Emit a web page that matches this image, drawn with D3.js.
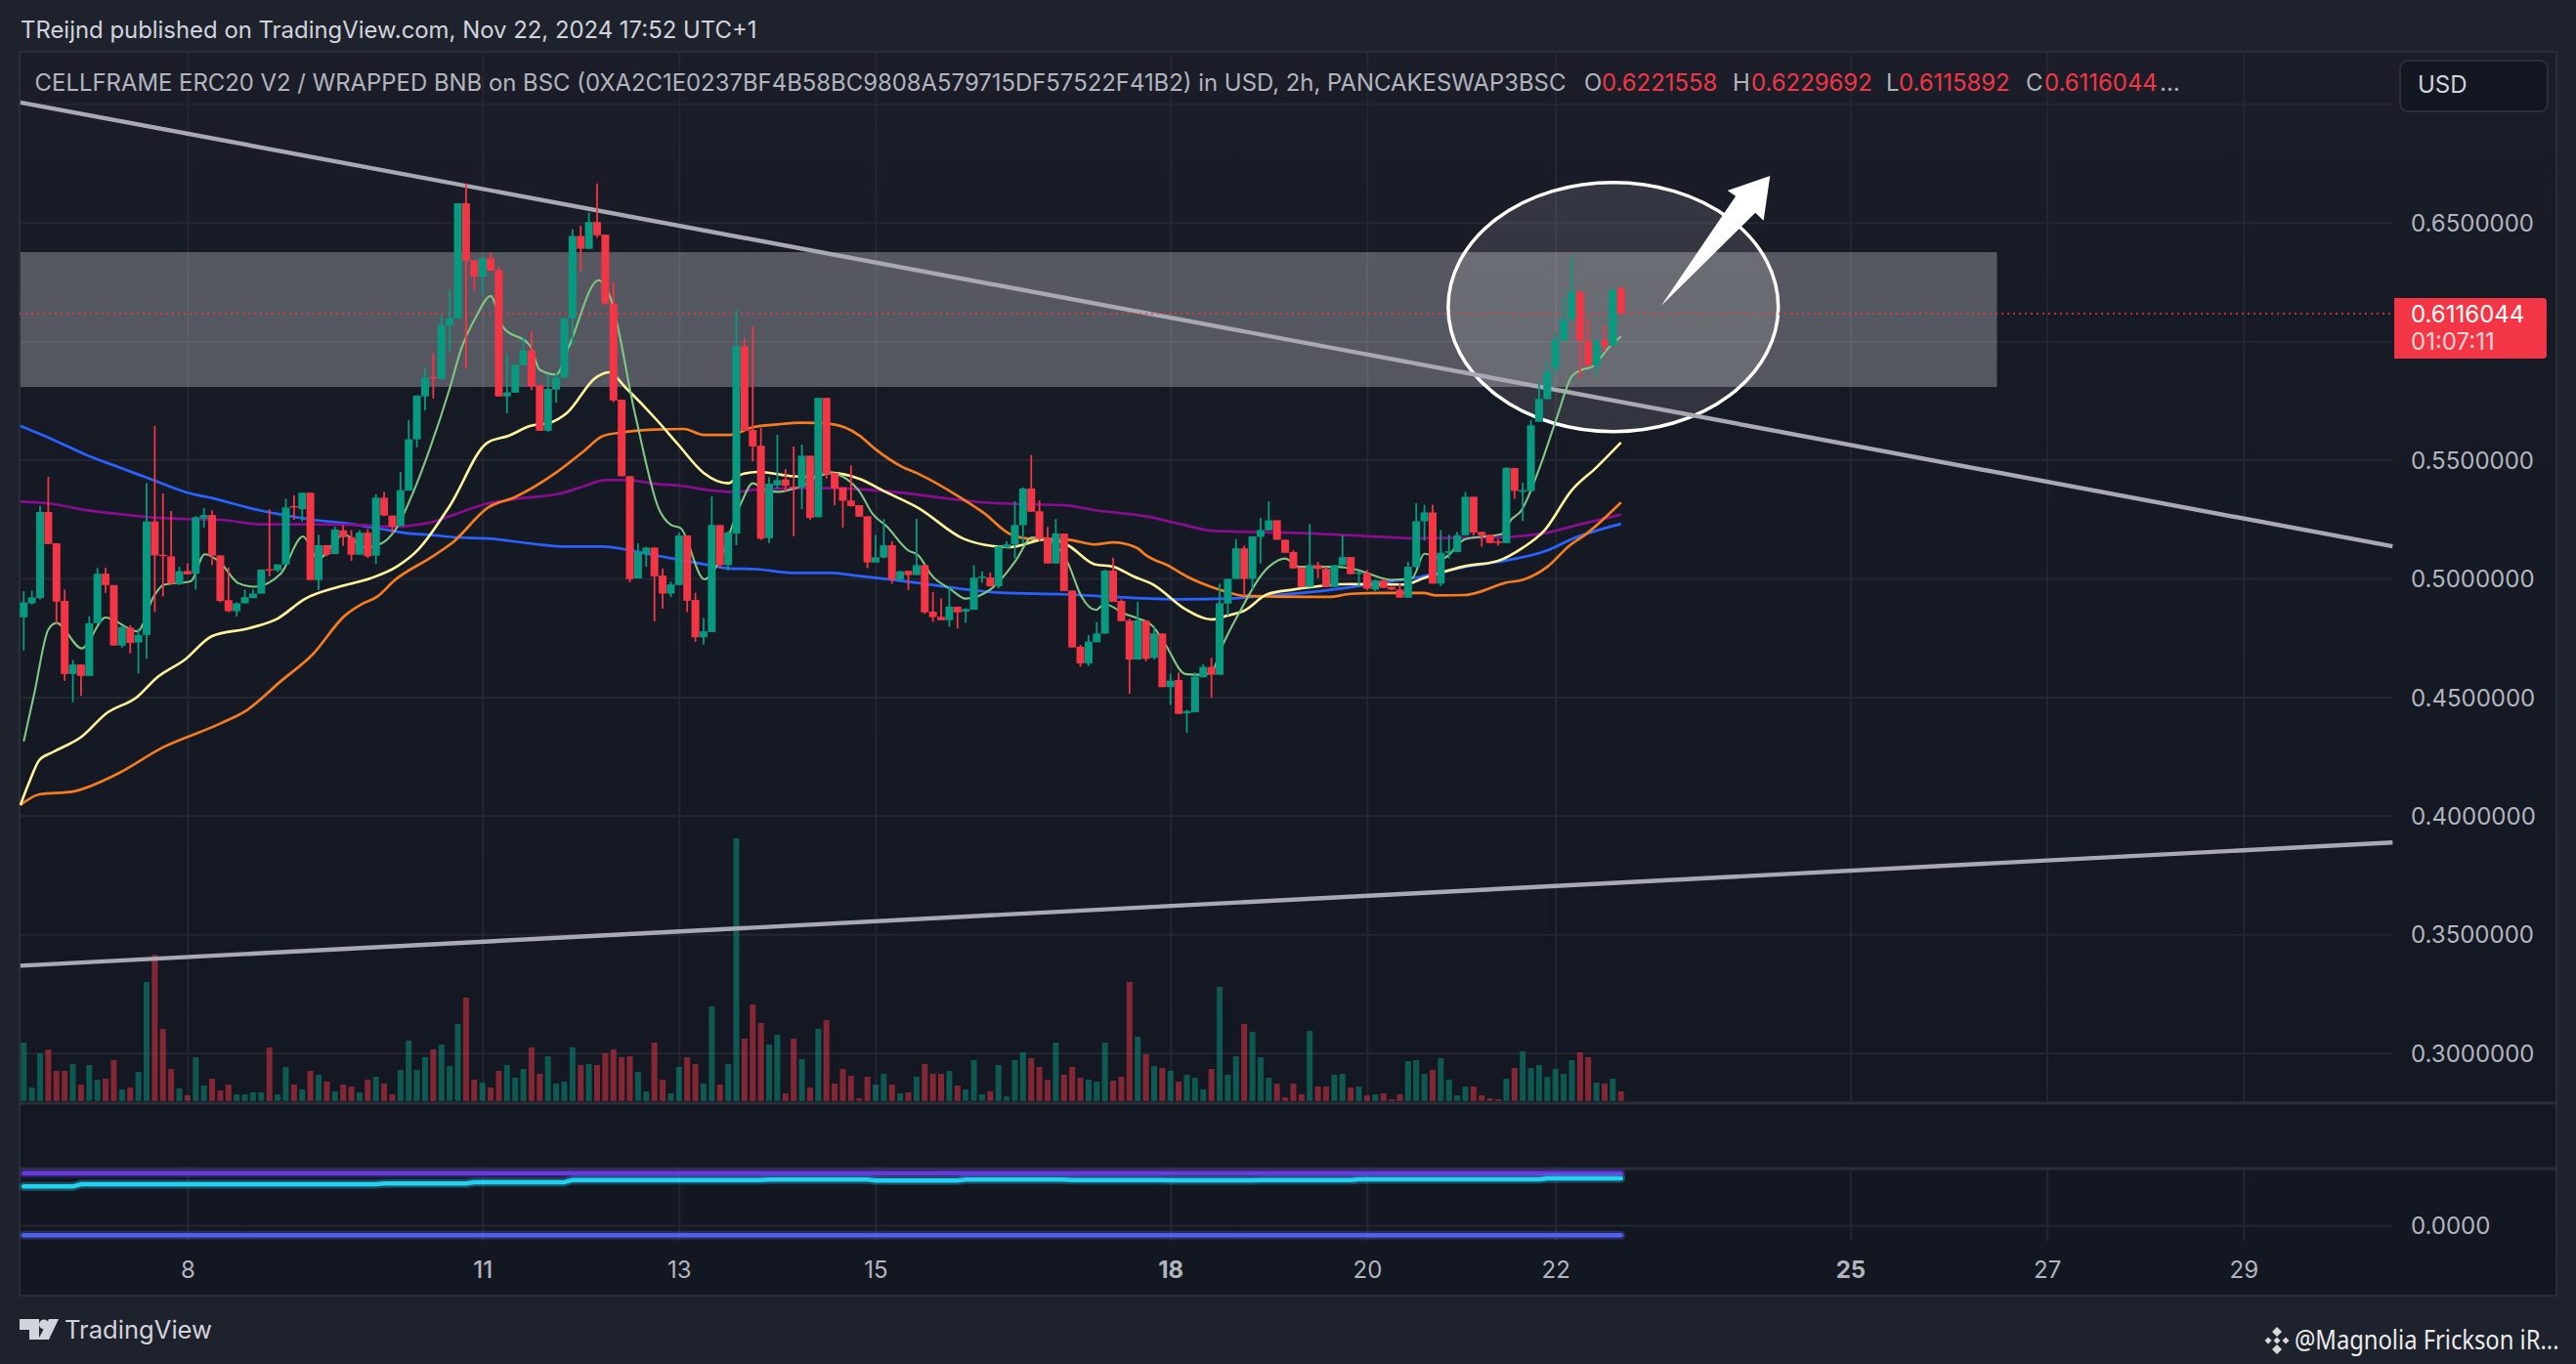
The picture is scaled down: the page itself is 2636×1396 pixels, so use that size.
<!DOCTYPE html>
<html>
<head>
<meta charset="utf-8">
<script src="https://cdn.jsdelivr.net/npm/d3@7"></script>
<style>
  html, body { margin: 0; padding: 0; background: #1e222d; }
  svg { display: block; }
  text { font-family: Inter, "Noto Sans", sans-serif; }
</style>
</head>
<body>
<script>
var w = 2636;
var h = 1396;

// one candle every 2h
var opens = [
  .4836,.4895,.4917,.5280,.5148,.4905,.4597,.4637,.4589,.4811,
  .5020,.4972,.4717,.4792,.4730,.4762,.5240,.5100,.5093,.4976,
  .5031,.5020,.5252,.5267,.5097,.4908,.4862,.4895,.4917,.4936,
  .5039,.5034,.5059,.5305,.5292,.5361,.4993,.5140,.5103,.5203,
  .5174,.5100,.5193,.5096,.5340,.5265,.5221,.5370,.5586,.5767,
  .5849,.5840,.6067,.6096,.6581,.6340,.6272,.6349,.6299,.5767,
  .5783,.5899,.5961,.5814,.5622,.5796,.5846,.6096,.6443,.6389,
  .6502,.6449,.6158,.5753,.5431,.5000,.5103,.5130,.5012,.4936,
  .4972,.5181,.4909,.4752,.4774,.5225,.5056,.5189,.5978,.5625,
  .5559,.5170,.5392,.5417,.5387,.5383,.5517,.5258,.5761,.5445,
  .5384,.5328,.5309,.5262,.5067,.5088,.5140,.4995,.5032,.5014,
  .5056,.4860,.4838,.4824,.4881,.4860,.4868,.5002,.5004,.4967,
  .5129,.5143,.5224,.5379,.5283,.5173,.5063,.5189,.4949,.4712,
  .4642,.4731,.4767,.5033,.4905,.4822,.4658,.4822,.4665,.4768,
  .4542,.4572,.4432,.4436,.4583,.4627,.4594,.4894,.4998,.5127,
  .4998,.5175,.5203,.5245,.5163,.5111,.5046,.4964,.5056,.5040,
  .4964,.5056,.5090,.5019,.5022,.4953,.4992,.4964,.4953,.4919,
  .5049,.5241,.5278,.4978,.5108,.5111,.5182,.5344,.5196,.5184,
  .5156,.5149,.5465,.5365,.5368,.5660,.5756,.5886,.6003,.6090,
  .6209,.6000,.5897,.6003,.5980,.6222];
var highs = [
  .4946,.4949,.5306,.5428,.5148,.4953,.4656,.4637,.4840,.5045,
  .5045,.4972,.4802,.4803,.4789,.5402,.5642,.5358,.5284,.5049,
  .5064,.5262,.5296,.5287,.5097,.5046,.4899,.4953,.4953,.5037,
  .5292,.5059,.5336,.5350,.5361,.5361,.5184,.5140,.5218,.5225,
  .5203,.5203,.5208,.5355,.5365,.5265,.5449,.5667,.5772,.5887,
  .5950,.6111,.6218,.6581,.6664,.6340,.6349,.6375,.6311,.5946,
  .5900,.6015,.6042,.5814,.5858,.5865,.6096,.6472,.6486,.6542,
  .6664,.6449,.6250,.5753,.5431,.5147,.5133,.5130,.5042,.4986,
  .5193,.5181,.4939,.4833,.5346,.5225,.5199,.6130,.6012,.6061,
  .5634,.5427,.5605,.5461,.5556,.5564,.5517,.5761,.5761,.5445,
  .5384,.5476,.5309,.5262,.5183,.5250,.5157,.5033,.5032,.5251,
  .5056,.4942,.4916,.4967,.4881,.4875,.5056,.5029,.5025,.5139,
  .5157,.5324,.5383,.5520,.5329,.5217,.5251,.5189,.4949,.4720,
  .4761,.4816,.5036,.5087,.4912,.4830,.4901,.4822,.4796,.4768,
  .4599,.4603,.4446,.4603,.4638,.4665,.4978,.4998,.5166,.5138,
  .5177,.5255,.5324,.5245,.5163,.5118,.5046,.5230,.5070,.5049,
  .5056,.5182,.5090,.5029,.5036,.4994,.4994,.4964,.4981,.5070,
  .5317,.5310,.5310,.5204,.5184,.5197,.5365,.5344,.5196,.5184,
  .5166,.5468,.5465,.5403,.5667,.5825,.5914,.6031,.6182,.6356,
  .6209,.6099,.6003,.6065,.6218,.6230];
var lows = [
  .4696,.4890,.4911,.5145,.4806,.4568,.4478,.4505,.4589,.4811,
  .4939,.4717,.4708,.4684,.4600,.4662,.4858,.4924,.4975,.4972,
  .5017,.4953,.5214,.5056,.4899,.4858,.4840,.4895,.4917,.4936,
  .5008,.5027,.5056,.5247,.5240,.4993,.4950,.5093,.5103,.5137,
  .5074,.5100,.5086,.5061,.5262,.5189,.5221,.5370,.5552,.5708,
  .5758,.5836,.5956,.6093,.5884,.6211,.6196,.6297,.5767,.5696,
  .5783,.5899,.5793,.5622,.5618,.5740,.5846,.5983,.6295,.6389,
  .6436,.6152,.5743,.5431,.4983,.5000,.5049,.4818,.4872,.4921,
  .4972,.4858,.4733,.4721,.4774,.5042,.5034,.5140,.5622,.5493,
  .5162,.5149,.5380,.5365,.5178,.5292,.5247,.5258,.5420,.5308,
  .5214,.5302,.5260,.5043,.5067,.5084,.4977,.4988,.4951,.5014,
  .4850,.4816,.4824,.4796,.4789,.4812,.4868,.4981,.4964,.4958,
  .5129,.5084,.5146,.5281,.5157,.5063,.5063,.4947,.4709,.4628,
  .4631,.4731,.4767,.4901,.4820,.4514,.4658,.4651,.4658,.4542,
  .4466,.4429,.4350,.4436,.4583,.4498,.4594,.4843,.4998,.4926,
  .4953,.5063,.5203,.5163,.5108,.5042,.4964,.4964,.5001,.4964,
  .4964,.5056,.5018,.4964,.4950,.4946,.4960,.4950,.4919,.4919,
  .5046,.5159,.4978,.4967,.5084,.5111,.5180,.5180,.5134,.5149,
  .5138,.5148,.5335,.5241,.5368,.5660,.5756,.5856,.6003,.6090,
  .5845,.5897,.5852,.5955,.5980,.6116];
var closes = [
  .4899,.4920,.5280,.5145,.4902,.4597,.4637,.4589,.4811,.5020,
  .4972,.4717,.4795,.4728,.4762,.5240,.5097,.5096,.4978,.5030,
  .5017,.5258,.5267,.5096,.4905,.4862,.4895,.4921,.4936,.5037,
  .5034,.5059,.5299,.5299,.5361,.4993,.5140,.5100,.5206,.5174,
  .5100,.5193,.5093,.5340,.5265,.5218,.5372,.5586,.5770,.5846,
  .5846,.6068,.6097,.6581,.6339,.6272,.6349,.6297,.5767,.5784,
  .5900,.5961,.5809,.5622,.5799,.5846,.6096,.6443,.6389,.6502,
  .6446,.6158,.5750,.5431,.4997,.5111,.5130,.5009,.4936,.4975,
  .5181,.4906,.4752,.4777,.5225,.5056,.5193,.5978,.5622,.5556,
  .5167,.5399,.5414,.5390,.5383,.5517,.5255,.5761,.5439,.5379,
  .5327,.5305,.5260,.5067,.5089,.5140,.4995,.5030,.5014,.5056,
  .4857,.4837,.4824,.4881,.4857,.4871,.5003,.5008,.4967,.5135,
  .5143,.5225,.5379,.5281,.5166,.5063,.5189,.4947,.4709,.4642,
  .4734,.4768,.5033,.4901,.4820,.4658,.4823,.4661,.4768,.4542,
  .4569,.4429,.4441,.4586,.4627,.4594,.4896,.4998,.5127,.4998,
  .5177,.5204,.5245,.5163,.5108,.5042,.4964,.5056,.5040,.4964,
  .5056,.5090,.5018,.5026,.4957,.4992,.4960,.4953,.4919,.5049,
  .5241,.5278,.4978,.5108,.5115,.5182,.5344,.5193,.5182,.5149,
  .5149,.5466,.5369,.5372,.5645,.5756,.5873,.6003,.6090,.6209,
  .6003,.5897,.6003,.5980,.6216,.6116];
// volume has no scale in the picture, so these are relative units
var volumes = [
  179,41,146,158,92,92,113,50,110,65,68,125,35,41,89,365,449,221,98,38,
  17,134,47,68,32,50,20,20,26,26,164,20,104,50,35,92,80,59,29,50,
  44,26,65,74,53,20,95,185,95,134,158,173,107,236,317,65,56,41,92,110,
  71,98,164,83,137,53,59,164,110,113,110,146,158,134,137,89,29,179,65,23,
  104,134,113,53,290,50,113,806,191,296,239,173,203,23,191,128,41,221,248,53,
  98,77,8,74,50,83,50,23,26,74,113,83,83,92,47,35,125,20,29,110,
  14,125,149,131,104,65,179,80,104,71,65,59,179,62,74,365,197,143,107,101,
  92,59,80,71,35,98,350,80,137,236,212,134,71,53,11,53,20,215,44,44,
  80,83,41,44,17,20,23,5,20,122,125,83,95,131,65,17,44,44,17,8,
  5,68,101,152,101,110,74,98,83,125,149,134,56,53,68,29];

// moving averages as [bar, price]
var maFast = [[0,.4313],[1.3,.4516],[3,.4784],[4,.4812],[7.1,.4705],[10,.4835],[13.9,.4777],[15.9,.4926],[17.1,.4973],
  [20.4,.4988],[22.1,.5102],[24,.5067],[26.2,.4980],[28.1,.4965],[31.4,.5021],[34.1,.5177],[35.9,.5082],[39.1,.5185],
  [41.7,.5131],[43.6,.5146],[45.3,.5201],[47.6,.5367],[49.5,.5539],[52,.5800],[53.4,.5966],[55.3,.6108],[57,.6190],
  [58.5,.6060],[61.8,.5981],[63,.5879],[65,.5859],[66.6,.5981],[70.2,.6257],[71.5,.6194],[74.7,.5682],[77.6,.5288],
  [79,.5226],[80.2,.5212],[83.1,.4996],[84.7,.5059],[87.6,.5319],[89,.5401],[90.9,.5367],[92.1,.5365],[95,.5390],
  [98.3,.5445],[101.9,.5372],[103.7,.5269],[105.3,.5221],[108,.5118],[109.2,.5098],[110.8,.5015],[113.2,.4953],[115,.4915],
  [118,.4953],[119.6,.5008],[121.2,.5080],[123.1,.5173],[124.7,.5166],[127.5,.5063],[129.1,.4926],[130.9,.4867],[131.9,.4892],
  [134.5,.4850],[135.9,.4833],[137.9,.4796],[139.4,.4720],[141.8,.4597],[143.4,.4594],[145,.4603],[146.2,.4706],[148.2,.4843],
  [152,.5049],[154,.5084],[155.7,.5049],[160.5,.5049],[162.9,.5035],[166.9,.4994],[169.5,.5001],[171,.5104],[173.2,.5084],
  [176,.5166],[180.4,.5186],[181.6,.5248],[182.8,.5285],[185,.5461],[187.2,.5681],[189,.5852],[190.3,.5880],[191.5,.5893],
  [193.5,.5972],[195,.6020]];
var maMid = [[-.4,.4045],[.7,.4143],[1.9,.4234],[3.5,.4267],[7.1,.4334],[10,.4429],[13.9,.4502],[16.2,.4580],[19.7,.4658],
  [23,.4757],[27.5,.4790],[31,.4831],[34.3,.4913],[38.5,.4965],[42.3,.5000],[45.6,.5051],[48.2,.5123],[52,.5305],[56.6,.5572],
  [59.2,.5601],[61.8,.5642],[64.4,.5658],[66.3,.5697],[69.9,.5848],[71.5,.5869],[73.4,.5807],[77.3,.5667],[79.9,.5564],
  [83,.5445],[86,.5401],[87.6,.5438],[89.6,.5449],[94,.5430],[96.1,.5428],[98.5,.5445],[102,.5420],[105.2,.5365],[109.2,.5297],
  [114.8,.5166],[118.4,.5136],[120.4,.5132],[125,.5166],[127.5,.5139],[130.7,.5060],[133,.5049],[135.5,.5008],[137.9,.4974],
  [141.8,.4871],[145,.4827],[147,.4844],[149,.4864],[151.8,.4933],[155,.4953],[162,.4976],[168.5,.4974],[170.9,.5001],
  [176,.5052],[180,.5074],[183,.5129],[185.6,.5200],[189,.5372],[192,.5468],[195,.5573]];
var maSlow = [[-.4,.4045],[1.9,.4090],[6,.4102],[11.2,.4172],[17,.4288],[24.1,.4390],[27.3,.4446],[31.3,.4564],[35.3,.4681],
  [39.2,.4843],[41.2,.4890],[43.2,.4924],[45.2,.4990],[49.6,.5086],[52.4,.5152],[56.7,.5299],[60,.5343],[65,.5446],[68.3,.5534],
  [70.7,.5600],[73,.5615],[77,.5627],[80.6,.5630],[83,.5605],[86.2,.5605],[89,.5637],[92,.5649],[95,.5656],[98.5,.5651],
  [102,.5603],[104,.5544],[107.2,.5471],[109.2,.5441],[114.8,.5331],[117.2,.5276],[120.4,.5187],[123.1,.5166],[127.5,.5163],
  [130.7,.5143],[133,.5152],[135.9,.5129],[137,.5098],[140,.5049],[142,.5008],[145,.4964],[146.6,.4946],[149,.4926],[157,.4922],
  [159.3,.4922],[162,.4935],[166,.4939],[170.9,.4939],[172.4,.4928],[176,.4930],[178,.4946],[180.8,.4981],[183,.4994],[186,.5049],
  [188.7,.5138],[190.7,.5186],[195,.5320]];
var maPurple = [[-.4,.5324],[3.5,.5314],[7.4,.5289],[11.4,.5272],[15.4,.5258],[20,.5250],[24,.5247],[29,.5228],[35.3,.5228],
  [41.2,.5225],[45,.5218],[49.6,.5235],[52.4,.5267],[56.4,.5314],[60.3,.5336],[65.5,.5358],[68.3,.5387],[71,.5414],[73.8,.5414],
  [77,.5399],[80.2,.5390],[84.2,.5370],[86.6,.5365],[90.5,.5377],[98.5,.5380],[105.3,.5368],[113.2,.5335],[117.2,.5320],
  [121.2,.5314],[127.1,.5308],[131.1,.5286],[137,.5262],[141,.5231],[145,.5201],[147.4,.5198],[154.2,.5193],[162.1,.5182],
  [170.1,.5169],[180,.5173],[186,.5193],[190,.5228],[195,.5269]];
var maBlue = [[-.4,.5642],[3.5,.5586],[7.4,.5524],[11.4,.5471],[15.4,.5420],[20,.5361],[23.3,.5336],[27.3,.5299],[31.3,.5270],
  [35.3,.5247],[39.2,.5233],[43.2,.5211],[47.2,.5189],[49.6,.5184],[52.4,.5174],[57.1,.5167],[62.3,.5145],[66.3,.5134],
  [70.7,.5134],[73.8,.5120],[76.2,.5103],[80.2,.5078],[84.2,.5053],[86.2,.5042],[89.4,.5039],[94.1,.5023],[98.5,.5023],
  [101.3,.5013],[105.3,.4997],[109.2,.4981],[115.2,.4953],[119.2,.4940],[127.1,.4933],[133.1,.4922],[141,.4912],[147,.4915],
  [152.2,.4928],[158.1,.4946],[164.1,.4974],[170.1,.5004],[176,.5049],[180,.5070],[186,.5118],[189,.5166],[195,.5230]];

// lower indicator pane
var indTop = [[0,.0533],[195,.0533]];
var indMid = [[0,.0397],[6,.0397],[7,.042],[43,.042],[44,.0427],[54,.0427],[55,.044],[66,.044],[67,.0463],[90,.0463],[91,.0467],
  [103,.0467],[104,.0457],[114,.0457],[115,.0467],[127,.0467],[128,.0463],[139,.0463],[140,.046],[150,.046],[151,.0463],
  [162,.0463],[163,.047],[185,.047],[186,.048],[195,.048]];
var indBottom = [[0,-.0103],[195,-.0103]];

// drawings, anchored on [bar, price]
var trendDown = [[-.4,.7006],[289.2,.5135]];
var trendUp = [[-.4,.3368],[289.2,.3887]];
var zoneBars = [-.4, 240.9];
var zonePrices = [.6375, .5807];
var ellipseBars = [173.9, 214.2];
var ellipsePrices = [.6669, .5619];
var arrowPoints = [[199.9,.6149],[209,.6611],[208,.6635],[213.2,.6696],[212.4,.6508],[211.4,.6541]];

var lastPrice = 0.6116044;
var priceGrid = [.7,.65,.6,.55,.5,.45,.4,.35,.3];
var priceLabels = [.65,.55,.5,.45,.4,.35,.3];
var timeTicks = [20,56,80,104,140,164,187,223,247,271];
var timeLabels = ["8","11","13","15","18","20","22","25","27","29"];
var boldLabels = {"11":500, "18":700, "25":700};

var chartL = 20, chartR = 2448, frameR = 2616;
var chartT = 53, paneB = 1129, indT = 1196, indB = 1270, frameB = 1326;

var x = d3.scaleLinear().domain([20, 271]).range([191.9, 2295.8]);
var y = d3.scaleLinear().domain([.65, .3]).range([227.7, 1077.7]);
var yVol = d3.scaleLinear().domain([0, 806]).range([1126.7, 858]);
var yInd = d3.scaleLinear().domain([0, .05]).range([1254, 1204]);

var green = "#089981", red = "#f23645";
var textCol = "#b2b5be";
var legendSize = "23.9px";

var candles = opens.map(function(o, i) {
  return {i: i, o: o, h: highs[i], l: lows[i], c: closes[i], v: volumes[i]};
});

var svg = d3.select("body").append("svg").attr("width", w).attr("height", h);

var grad = svg.append("defs").append("linearGradient")
  .attr("id", "bg").attr("x1", 0).attr("y1", 0).attr("x2", 0).attr("y2", 1);
grad.append("stop").attr("offset", "0%").attr("stop-color", "#1b1e29");
grad.append("stop").attr("offset", "25%").attr("stop-color", "#161a25");
grad.append("stop").attr("offset", "100%").attr("stop-color", "#131722");

svg.append("text").attr("x", 21).attr("y", 39).attr("fill", "#d1d4dc")
  .style("font-size", "23.9px").text("TReijnd published on TradingView.com, Nov 22, 2024 17:52 UTC+1");

svg.append("rect").attr("x", chartL).attr("y", chartT)
  .attr("width", frameR - chartL).attr("height", frameB - chartT)
  .attr("fill", "url(#bg)").attr("stroke", "#2a2e39").attr("stroke-width", 2);

// grid, through the axes
var gridCol = "#242732";
var gridY = svg.append("g").attr("transform", "translate(" + chartR + ",0)")
  .call(d3.axisRight(y).tickValues(priceGrid).tickSize(-(chartR - chartL)).tickFormat(""));
var gridX1 = svg.append("g").attr("transform", "translate(0," + paneB + ")")
  .call(d3.axisBottom(x).tickValues(timeTicks).tickSize(-(paneB - chartT)).tickFormat(""));
var gridX2 = svg.append("g").attr("transform", "translate(0," + indB + ")")
  .call(d3.axisBottom(x).tickValues(timeTicks).tickSize(-(indB - indT)).tickFormat(""));
var gridInd = svg.append("g").attr("transform", "translate(" + chartR + ",0)")
  .call(d3.axisRight(yInd).tickValues([0]).tickSize(-(chartR - chartL)).tickFormat(""));
[gridY, gridX1, gridX2, gridInd].forEach(function(g) {
  g.select(".domain").remove();
  g.selectAll("line").attr("stroke", gridCol).attr("stroke-width", 2);
});

// pane separators
[paneB, indT].forEach(function(py) {
  svg.append("line").attr("x1", chartL).attr("x2", frameR).attr("y1", py).attr("y2", py)
    .attr("stroke", "#2a2e39").attr("stroke-width", 3);
});

// volume
svg.append("g").selectAll("rect").data(candles).enter().append("rect")
  .attr("x", function(d) { return x(d.i) - 3; })
  .attr("width", 6)
  .attr("y", function(d) { return yVol(d.v); })
  .attr("height", function(d) { return yVol(0) - yVol(d.v); })
  .attr("fill", function(d) { return d.c >= d.o ? green : red; })
  .attr("fill-opacity", .5);

// zone
svg.append("rect")
  .attr("x", x(zoneBars[0])).attr("width", x(zoneBars[1]) - x(zoneBars[0]))
  .attr("y", y(zonePrices[0])).attr("height", y(zonePrices[1]) - y(zonePrices[0]))
  .attr("fill", "#fff").attr("fill-opacity", .27);

var line = d3.line()
  .x(function(d) { return x(d[0]); })
  .y(function(d) { return y(d[1]); });
var lineInd = d3.line()
  .x(function(d) { return x(d[0]); })
  .y(function(d) { return yInd(d[1]); });

// ellipse under the candles
svg.append("ellipse")
  .attr("cx", (x(ellipseBars[0]) + x(ellipseBars[1])) / 2)
  .attr("cy", (y(ellipsePrices[0]) + y(ellipsePrices[1])) / 2)
  .attr("rx", (x(ellipseBars[1]) - x(ellipseBars[0])) / 2)
  .attr("ry", (y(ellipsePrices[1]) - y(ellipsePrices[0])) / 2)
  .attr("fill", "#fff").attr("fill-opacity", .12)
  .attr("stroke", "#fff").attr("stroke-width", 3.5);

// trend lines
[trendDown, trendUp].forEach(function(t) {
  svg.append("path").attr("d", line(t)).attr("fill", "none")
    .attr("stroke", "#a9a9b4").attr("stroke-width", 4.4);
});

// last price
svg.append("line").attr("x1", chartL).attr("x2", chartR)
  .attr("y1", y(lastPrice)).attr("y2", y(lastPrice))
  .attr("stroke", red).attr("stroke-opacity", .75).attr("stroke-width", 2).attr("stroke-dasharray", "2 4");

// moving averages
var maLines = [
  {d: maBlue, c: "#2962ff", w: 2.7},
  {d: maPurple, c: "#880e8f", w: 2.7},
  {d: maSlow, c: "#f57c1f", w: 2.7},
  {d: maMid, c: "#fff59d", w: 2.6},
  {d: maFast, c: "#81c784", w: 2.1}
];
maLines.forEach(function(m) {
  svg.append("path").attr("d", line.curve(d3.curveMonotoneX)(m.d)).attr("fill", "none")
    .attr("stroke", m.c).attr("stroke-width", m.w).attr("stroke-linejoin", "round");
});
line.curve(d3.curveLinear);

// candles
var bars = svg.append("g").selectAll("g").data(candles).enter().append("g")
  .attr("fill", function(d) { return d.c >= d.o ? green : red; });
bars.append("rect")
  .attr("x", function(d) { return x(d.i) - .9; })
  .attr("width", 1.8)
  .attr("y", function(d) { return y(d.h); })
  .attr("height", function(d) { return y(d.l) - y(d.h); });
bars.append("rect")
  .attr("x", function(d) { return x(d.i) - 4; })
  .attr("width", 8)
  .attr("y", function(d) { return y(Math.max(d.o, d.c)); })
  .attr("height", function(d) { return Math.max(1.5, Math.abs(y(d.o) - y(d.c))); });

// arrow on top
svg.append("path")
  .attr("d", d3.line().x(function(d) { return x(d[0]); }).y(function(d) { return y(d[1]); })(arrowPoints) + "Z")
  .attr("fill", "#fff");

// indicator pane
[{d: indTop, c: "#673ae0"}, {d: indMid, c: "#26d0f0"}, {d: indBottom, c: "#5060e8"}].forEach(function(s) {
  svg.append("path").attr("d", lineInd(s.d)).attr("fill", "none")
    .attr("stroke", s.c).attr("stroke-opacity", .3).attr("stroke-width", 9).attr("stroke-linecap", "round");
  svg.append("path").attr("d", lineInd(s.d)).attr("fill", "none")
    .attr("stroke", s.c).attr("stroke-width", 4.5).attr("stroke-linecap", "round");
});

// price axis labels
var axisY = svg.append("g").attr("transform", "translate(" + chartR + ",0)")
  .call(d3.axisRight(y).tickValues(priceLabels).tickSize(0).tickPadding(19)
    .tickFormat(function(d) { return d.toFixed(7); }));
var axisInd = svg.append("g").attr("transform", "translate(" + chartR + ",0)")
  .call(d3.axisRight(yInd).tickValues([0]).tickSize(0).tickPadding(19)
    .tickFormat(function(d) { return d.toFixed(4); }));
[axisY, axisInd].forEach(function(g) {
  g.select(".domain").remove();
  g.selectAll("text").attr("fill", textCol).style("font-size", "24px").attr("dy", ".36em");
});

// time axis labels
var axisX = svg.append("g").attr("transform", "translate(0," + 1281 + ")")
  .call(d3.axisBottom(x).tickValues(timeTicks).tickSize(0).tickPadding(0)
    .tickFormat(function(d, i) { return timeLabels[i]; }));
axisX.select(".domain").remove();
axisX.selectAll("text").attr("fill", textCol).attr("y", 27).attr("dy", 0).style("font-size", "24px")
  .style("font-weight", function(d, i) { return boldLabels[timeLabels[i]] || 400; });

// last price tag
svg.append("path").attr("fill", red)
  .attr("d", "M2450,305H2602a4,4 0 0 1 4,4V363a4,4 0 0 1 -4,4H2450Z");
svg.append("text").attr("x", 2467).attr("y", 330).attr("fill", "#fff")
  .style("font-size", "24px").text(lastPrice.toFixed(7));
svg.append("text").attr("x", 2467).attr("y", 358).attr("fill", "#fff").attr("fill-opacity", .8)
  .style("font-size", "24px").text("01:07:11");

// legend line
var legend = svg.append("text").attr("y", 93).style("font-size", legendSize);
legend.append("tspan").attr("x", 35.6).attr("fill", textCol)
  .text("CELLFRAME ERC20 V2 / WRAPPED BNB on BSC (0XA2C1E0237BF4B58BC9808A579715DF57522F41B2) in USD, 2h, PANCAKESWAP3BSC");
[["O", 1621, "0.6221558", 1639], ["H", 1773, "0.6229692", 1792], ["L", 1930, "0.6115892", 1943], ["C", 2073, "0.6116044", 2092]]
  .forEach(function(v) {
    svg.append("text").attr("x", v[1]).attr("y", 93).attr("fill", textCol).style("font-size", legendSize).text(v[0]);
    svg.append("text").attr("x", v[3]).attr("y", 93).attr("fill", red).style("font-size", legendSize).text(v[2]);
  });
svg.append("text").attr("x", 2210).attr("y", 93).attr("fill", textCol).style("font-size", legendSize).text("...");

// currency button
svg.append("rect").attr("x", 2456).attr("y", 62).attr("width", 151).attr("height", 52).attr("rx", 8)
  .attr("fill", "#131722").attr("stroke", "#2a2e39").attr("stroke-width", 2);
svg.append("text").attr("x", 2474).attr("y", 95).attr("fill", "#d1d4dc").style("font-size", "24px").text("USD");

// footer logo
var logo = svg.append("g").attr("fill", "#d1d4dc");
logo.append("path").attr("d", "M20,1350H40V1371H30V1361H20Z");
logo.append("circle").attr("cx", 45).attr("cy", 1355.5).attr("r", 5);
logo.append("path").attr("d", "M50,1350H60L50,1371H39Z");
svg.append("text").attr("x", 66).attr("y", 1370).attr("fill", "#d1d4dc")
  .style("font-size", "25.6px").text("TradingView");

// footer credit, squeezed sideways like the original so it stays inside the page
var mark = svg.append("g").attr("fill", "#d9d9d9");
[[0,-9,5],[0,9,5],[-9,0,3.5],[9,0,3.5],[0,0,3.5]].forEach(function(m) {
  var cx = 2330 + m[0], cy = 1372 + m[1], r = m[2];
  mark.append("path").attr("d", "M" + cx + "," + (cy - r) + "L" + (cx + r) + "," + cy + "L" + cx + "," + (cy + r) + "L" + (cx - r) + "," + cy + "Z");
});
svg.append("text").attr("transform", "translate(2348,1381) scale(.88,1)").attr("fill", "#ececec")
  .style("font-family", "'Noto Sans', sans-serif").style("font-size", "27px")
  .text("@Magnolia Frickson iR...");
</script>
</body>
</html>
